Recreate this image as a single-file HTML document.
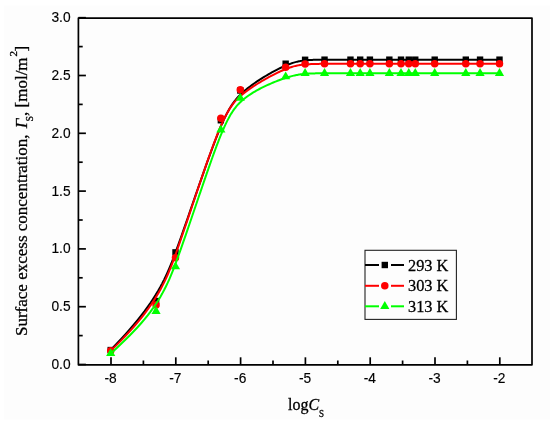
<!DOCTYPE html>
<html><head><meta charset="utf-8"><style>
html,body{margin:0;padding:0;background:#fff;}
svg{display:block;}
.tk{font-family:"Liberation Sans",Arial,sans-serif;font-size:14.5px;fill:#000;stroke:#000;stroke-width:0.15px;}
.lg{font-family:"Liberation Serif","Times New Roman",serif;font-size:17px;fill:#000;stroke:#000;stroke-width:0.3px;}
.ax{font-family:"Liberation Serif","Times New Roman",serif;font-size:17px;fill:#000;stroke:#000;stroke-width:0.3px;}
</style></head><body>
<svg width="550" height="422" viewBox="0 0 550 422">
<rect width="550" height="422" fill="#fff"/>
<rect x="4" y="5.5" width="546" height="414" fill="#fdfdfd"/>
<rect x="78.4" y="18.1" width="453.6" height="346.7" fill="none" stroke="#000" stroke-width="1.7" stroke-linejoin="round"/>
<line x1="78.4" y1="364.50" x2="85.90" y2="364.50" stroke="#000" stroke-width="1.7"/>
<text transform="translate(70.6,368.90) scale(0.95,1)" text-anchor="end" class="tk">0.0</text>
<line x1="78.4" y1="335.60" x2="82.70" y2="335.60" stroke="#000" stroke-width="1.7"/>
<line x1="78.4" y1="306.70" x2="85.90" y2="306.70" stroke="#000" stroke-width="1.7"/>
<text transform="translate(70.6,311.10) scale(0.95,1)" text-anchor="end" class="tk">0.5</text>
<line x1="78.4" y1="277.80" x2="82.70" y2="277.80" stroke="#000" stroke-width="1.7"/>
<line x1="78.4" y1="248.90" x2="85.90" y2="248.90" stroke="#000" stroke-width="1.7"/>
<text transform="translate(70.6,253.30) scale(0.95,1)" text-anchor="end" class="tk">1.0</text>
<line x1="78.4" y1="220.00" x2="82.70" y2="220.00" stroke="#000" stroke-width="1.7"/>
<line x1="78.4" y1="191.10" x2="85.90" y2="191.10" stroke="#000" stroke-width="1.7"/>
<text transform="translate(70.6,195.50) scale(0.95,1)" text-anchor="end" class="tk">1.5</text>
<line x1="78.4" y1="162.20" x2="82.70" y2="162.20" stroke="#000" stroke-width="1.7"/>
<line x1="78.4" y1="133.30" x2="85.90" y2="133.30" stroke="#000" stroke-width="1.7"/>
<text transform="translate(70.6,137.70) scale(0.95,1)" text-anchor="end" class="tk">2.0</text>
<line x1="78.4" y1="104.40" x2="82.70" y2="104.40" stroke="#000" stroke-width="1.7"/>
<line x1="78.4" y1="75.50" x2="85.90" y2="75.50" stroke="#000" stroke-width="1.7"/>
<text transform="translate(70.6,79.90) scale(0.95,1)" text-anchor="end" class="tk">2.5</text>
<line x1="78.4" y1="46.60" x2="82.70" y2="46.60" stroke="#000" stroke-width="1.7"/>
<line x1="78.4" y1="17.70" x2="85.90" y2="17.70" stroke="#000" stroke-width="1.7"/>
<text transform="translate(70.6,22.10) scale(0.95,1)" text-anchor="end" class="tk">3.0</text>
<line x1="111.00" y1="364.8" x2="111.00" y2="357.30" stroke="#000" stroke-width="1.7"/>
<text transform="translate(110.60,383.2) scale(0.95,1)" text-anchor="middle" class="tk">-8</text>
<line x1="143.40" y1="364.8" x2="143.40" y2="360.50" stroke="#000" stroke-width="1.7"/>
<line x1="175.80" y1="364.8" x2="175.80" y2="357.30" stroke="#000" stroke-width="1.7"/>
<text transform="translate(175.40,383.2) scale(0.95,1)" text-anchor="middle" class="tk">-7</text>
<line x1="208.20" y1="364.8" x2="208.20" y2="360.50" stroke="#000" stroke-width="1.7"/>
<line x1="240.60" y1="364.8" x2="240.60" y2="357.30" stroke="#000" stroke-width="1.7"/>
<text transform="translate(240.20,383.2) scale(0.95,1)" text-anchor="middle" class="tk">-6</text>
<line x1="273.00" y1="364.8" x2="273.00" y2="360.50" stroke="#000" stroke-width="1.7"/>
<line x1="305.40" y1="364.8" x2="305.40" y2="357.30" stroke="#000" stroke-width="1.7"/>
<text transform="translate(305.00,383.2) scale(0.95,1)" text-anchor="middle" class="tk">-5</text>
<line x1="337.80" y1="364.8" x2="337.80" y2="360.50" stroke="#000" stroke-width="1.7"/>
<line x1="370.20" y1="364.8" x2="370.20" y2="357.30" stroke="#000" stroke-width="1.7"/>
<text transform="translate(369.80,383.2) scale(0.95,1)" text-anchor="middle" class="tk">-4</text>
<line x1="402.60" y1="364.8" x2="402.60" y2="360.50" stroke="#000" stroke-width="1.7"/>
<line x1="435.00" y1="364.8" x2="435.00" y2="357.30" stroke="#000" stroke-width="1.7"/>
<text transform="translate(434.60,383.2) scale(0.95,1)" text-anchor="middle" class="tk">-3</text>
<line x1="467.40" y1="364.8" x2="467.40" y2="360.50" stroke="#000" stroke-width="1.7"/>
<line x1="499.80" y1="364.8" x2="499.80" y2="357.30" stroke="#000" stroke-width="1.7"/>
<text transform="translate(499.40,383.2) scale(0.95,1)" text-anchor="middle" class="tk">-2</text>
<path d="M110.70,350.05 L115.99,344.53 L120.95,339.22 L125.59,334.10 L129.93,329.18 L133.99,324.42 L137.79,319.82 L141.32,315.37 L144.62,311.05 L147.69,306.84 L150.55,302.75 L153.21,298.74 L155.70,294.81 L158.01,290.95 L160.18,287.13 L162.21,283.36 L164.12,279.61 L165.92,275.87 L167.64,272.13 L169.27,268.38 L170.84,264.60 L172.37,260.77 L173.86,256.89 L175.34,252.95 L176.81,248.92 L178.29,244.80 L179.80,240.57 L181.33,236.25 L182.88,231.84 L184.45,227.36 L186.04,222.82 L187.64,218.23 L189.24,213.60 L190.86,208.95 L192.47,204.28 L194.09,199.60 L195.71,194.93 L197.32,190.28 L198.93,185.66 L200.53,181.07 L202.11,176.55 L203.68,172.08 L205.24,167.69 L206.77,163.38 L208.28,159.17 L209.76,155.07 L211.22,151.10 L212.64,147.25 L214.03,143.54 L215.39,139.99 L216.70,136.60 L217.98,133.39 L219.21,130.35 L220.41,127.46 L221.58,124.73 L222.73,122.14 L223.84,119.70 L224.94,117.39 L226.02,115.20 L227.08,113.13 L228.14,111.18 L229.18,109.32 L230.22,107.57 L231.26,105.91 L232.30,104.33 L233.35,102.84 L234.41,101.41 L235.48,100.04 L236.56,98.73 L237.66,97.47 L238.79,96.26 L239.94,95.08 L241.12,93.92 L242.33,92.79 L243.58,91.68 L244.86,90.57 L246.19,89.47 L247.56,88.37 L248.96,87.27 L250.39,86.19 L251.84,85.11 L253.32,84.04 L254.83,82.98 L256.35,81.93 L257.88,80.90 L259.43,79.88 L260.98,78.88 L262.54,77.90 L264.10,76.94 L265.66,75.99 L267.21,75.07 L268.75,74.17 L270.28,73.30 L271.79,72.45 L273.29,71.63 L274.76,70.84 L276.20,70.08 L277.62,69.35 L279.01,68.66 L280.35,68.00 L281.66,67.37 L282.93,66.78 L284.16,66.23 L285.35,65.71 L286.51,65.22 L287.63,64.76 L288.71,64.34 L289.77,63.94 L290.80,63.57 L291.80,63.23 L292.77,62.92 L293.72,62.62 L294.64,62.36 L295.54,62.11 L296.43,61.88 L297.29,61.67 L298.15,61.48 L298.98,61.31 L299.80,61.16 L300.62,61.01 L301.42,60.88 L302.21,60.77 L303.00,60.66 L303.78,60.56 L304.56,60.47 L305.34,60.39 L306.12,60.31 L306.90,60.24 L307.68,60.18 L308.47,60.12 L309.25,60.06 L310.04,60.01 L310.83,59.97 L311.62,59.93 L312.42,59.89 L313.22,59.86 L314.02,59.83 L314.83,59.81 L315.64,59.78 L316.46,59.76 L317.29,59.75 L318.12,59.73 L318.96,59.72 L319.80,59.71 L320.66,59.71 L321.52,59.70 L322.39,59.69 L323.27,59.69 L324.16,59.69 L325.05,59.68 L325.96,59.68 L326.88,59.68 L327.81,59.68 L328.74,59.68 L329.68,59.67 L330.62,59.67 L331.57,59.67 L332.51,59.67 L333.46,59.67 L334.40,59.67 L335.34,59.67 L336.28,59.67 L337.21,59.67 L338.13,59.66 L339.05,59.66 L339.95,59.66 L340.84,59.66 L341.72,59.66 L342.58,59.66 L343.42,59.66 L344.25,59.66 L345.06,59.66 L345.85,59.66 L346.61,59.66 L347.35,59.66 L348.07,59.66 L348.76,59.66 L349.43,59.66 L350.07,59.66 L350.69,59.66 L351.29,59.66 L351.87,59.66 L352.43,59.66 L352.97,59.66 L353.49,59.66 L354.00,59.66 L354.49,59.66 L354.97,59.66 L355.43,59.66 L355.89,59.66 L356.33,59.66 L356.76,59.66 L357.18,59.66 L357.60,59.66 L358.01,59.66 L358.41,59.66 L358.81,59.66 L359.20,59.66 L359.59,59.66 L359.99,59.66 L360.37,59.66 L360.77,59.66 L361.16,59.66 L361.55,59.66 L361.94,59.66 L362.34,59.66 L362.74,59.66 L363.15,59.66 L363.56,59.66 L363.97,59.66 L364.39,59.66 L364.82,59.66 L365.26,59.66 L365.70,59.66 L366.15,59.66 L366.61,59.66 L367.08,59.66 L367.56,59.66 L368.05,59.66 L368.56,59.66 L369.07,59.66 L369.60,59.66 L370.14,59.66 L370.70,59.66 L371.27,59.66 L371.85,59.66 L372.45,59.66 L373.07,59.66 L373.69,59.66 L374.33,59.66 L374.98,59.66 L375.64,59.66 L376.31,59.66 L376.98,59.66 L377.66,59.66 L378.35,59.66 L379.03,59.66 L379.73,59.66 L380.42,59.66 L381.11,59.66 L381.80,59.66 L382.49,59.66 L383.18,59.66 L383.86,59.66 L384.54,59.66 L385.21,59.66 L385.88,59.66 L386.53,59.66 L387.18,59.66 L387.81,59.66 L388.43,59.66 L389.04,59.66 L389.64,59.66 L390.22,59.66 L390.80,59.66 L391.36,59.66 L391.91,59.66 L392.45,59.66 L392.98,59.66 L393.50,59.66 L394.01,59.66 L394.51,59.66 L395.01,59.66 L395.49,59.66 L395.96,59.66 L396.42,59.66 L396.88,59.66 L397.32,59.66 L397.76,59.66 L398.19,59.66 L398.61,59.66 L399.03,59.66 L399.44,59.66 L399.84,59.66 L400.23,59.66 L400.62,59.66 L401.00,59.66 L401.38,59.66 L401.75,59.66 L402.12,59.66 L402.48,59.66 L402.83,59.66 L403.18,59.66 L403.52,59.66 L403.86,59.66 L404.20,59.66 L404.53,59.66 L404.85,59.66 L405.18,59.66 L405.49,59.66 L405.81,59.66 L406.12,59.66 L406.43,59.66 L406.73,59.66 L407.03,59.66 L407.33,59.66 L407.62,59.66 L407.92,59.66 L408.21,59.66 L408.49,59.66 L408.78,59.66 L409.06,59.66 L409.35,59.66 L409.63,59.66 L409.91,59.66 L410.20,59.66 L410.49,59.66 L410.79,59.66 L411.09,59.66 L411.39,59.66 L411.71,59.66 L412.03,59.66 L412.36,59.66 L412.70,59.66 L413.05,59.66 L413.41,59.66 L413.78,59.66 L414.17,59.66 L414.57,59.66 L414.98,59.66 L415.42,59.66 L415.86,59.66 L416.33,59.66 L416.82,59.66 L417.32,59.66 L417.85,59.66 L418.40,59.66 L418.96,59.66 L419.55,59.66 L420.16,59.66 L420.79,59.66 L421.44,59.66 L422.11,59.66 L422.80,59.66 L423.51,59.66 L424.24,59.66 L424.99,59.66 L425.76,59.66 L426.55,59.66 L427.36,59.66 L428.19,59.66 L429.04,59.66 L429.90,59.66 L430.79,59.66 L431.70,59.66 L432.62,59.66 L433.57,59.66 L434.53,59.66 L435.52,59.66 L436.52,59.66 L437.54,59.66 L438.58,59.66 L439.63,59.66 L440.70,59.66 L441.78,59.66 L442.87,59.66 L443.98,59.66 L445.09,59.66 L446.22,59.66 L447.34,59.66 L448.48,59.66 L449.62,59.66 L450.76,59.66 L451.90,59.66 L453.04,59.66 L454.18,59.66 L455.31,59.66 L456.44,59.66 L457.57,59.66 L458.69,59.66 L459.80,59.66 L460.89,59.66 L461.98,59.66 L463.06,59.66 L464.12,59.66 L465.16,59.66 L466.20,59.66 L467.23,59.66 L468.26,59.66 L469.30,59.66 L470.35,59.66 L471.41,59.66 L472.49,59.66 L473.61,59.66 L474.75,59.66 L475.94,59.66 L477.16,59.66 L478.44,59.66 L479.77,59.66 L481.15,59.66 L482.61,59.66 L484.13,59.66 L485.73,59.66 L487.41,59.66 L489.18,59.66 L491.04,59.66 L492.99,59.66 L495.05,59.66 L497.22,59.66 L499.50,59.66" fill="none" stroke="#000" stroke-width="2.0" stroke-linejoin="round"/>
<rect x="107.50" y="346.85" width="6.4" height="6.4" fill="#000"/>
<rect x="152.86" y="297.84" width="6.4" height="6.4" fill="#000"/>
<rect x="172.30" y="249.17" width="6.4" height="6.4" fill="#000"/>
<rect x="217.66" y="117.04" width="6.4" height="6.4" fill="#000"/>
<rect x="237.10" y="87.33" width="6.4" height="6.4" fill="#000"/>
<rect x="282.46" y="60.51" width="6.4" height="6.4" fill="#000"/>
<rect x="301.90" y="56.58" width="6.4" height="6.4" fill="#000"/>
<rect x="321.34" y="56.46" width="6.4" height="6.4" fill="#000"/>
<rect x="347.26" y="56.46" width="6.4" height="6.4" fill="#000"/>
<rect x="356.98" y="56.46" width="6.4" height="6.4" fill="#000"/>
<rect x="366.70" y="56.46" width="6.4" height="6.4" fill="#000"/>
<rect x="386.14" y="56.46" width="6.4" height="6.4" fill="#000"/>
<rect x="397.80" y="56.46" width="6.4" height="6.4" fill="#000"/>
<rect x="405.58" y="56.46" width="6.4" height="6.4" fill="#000"/>
<rect x="412.06" y="56.46" width="6.4" height="6.4" fill="#000"/>
<rect x="431.50" y="56.46" width="6.4" height="6.4" fill="#000"/>
<rect x="462.60" y="56.46" width="6.4" height="6.4" fill="#000"/>
<rect x="476.86" y="56.46" width="6.4" height="6.4" fill="#000"/>
<rect x="496.30" y="56.46" width="6.4" height="6.4" fill="#000"/>
<path d="M110.70,350.86 L115.99,345.65 L120.95,340.63 L125.59,335.77 L129.93,331.07 L133.99,326.51 L137.79,322.08 L141.32,317.78 L144.62,313.57 L147.69,309.47 L150.55,305.44 L153.21,301.49 L155.70,297.59 L158.01,293.74 L160.18,289.93 L162.21,286.13 L164.12,282.35 L165.92,278.56 L167.64,274.76 L169.27,270.93 L170.84,267.07 L172.37,263.15 L173.86,259.17 L175.34,255.11 L176.81,250.97 L178.29,246.72 L179.80,242.37 L181.33,237.93 L182.88,233.39 L184.45,228.78 L186.04,224.11 L187.64,219.39 L189.24,214.63 L190.86,209.85 L192.47,205.05 L194.09,200.24 L195.71,195.45 L197.32,190.68 L198.93,185.95 L200.53,181.26 L202.11,176.63 L203.68,172.06 L205.24,167.58 L206.77,163.20 L208.28,158.92 L209.76,154.76 L211.22,150.73 L212.64,146.84 L214.03,143.10 L215.39,139.53 L216.70,136.14 L217.98,132.94 L219.21,129.91 L220.41,127.06 L221.58,124.37 L222.73,121.84 L223.84,119.46 L224.94,117.22 L226.02,115.11 L227.08,113.13 L228.14,111.27 L229.18,109.52 L230.22,107.88 L231.26,106.33 L232.30,104.86 L233.35,103.48 L234.41,102.17 L235.48,100.93 L236.56,99.74 L237.66,98.61 L238.79,97.51 L239.94,96.45 L241.12,95.42 L242.33,94.40 L243.58,93.40 L244.86,92.40 L246.19,91.40 L247.56,90.40 L248.96,89.40 L250.39,88.40 L251.84,87.41 L253.32,86.42 L254.83,85.44 L256.35,84.47 L257.88,83.51 L259.43,82.56 L260.98,81.62 L262.54,80.70 L264.10,79.80 L265.66,78.91 L267.21,78.04 L268.75,77.19 L270.28,76.37 L271.79,75.57 L273.29,74.79 L274.76,74.05 L276.20,73.33 L277.62,72.64 L279.01,71.98 L280.35,71.36 L281.66,70.77 L282.93,70.22 L284.16,69.70 L285.35,69.21 L286.51,68.76 L287.63,68.34 L288.71,67.95 L289.77,67.58 L290.80,67.24 L291.80,66.93 L292.77,66.65 L293.72,66.38 L294.64,66.14 L295.54,65.92 L296.43,65.72 L297.29,65.54 L298.15,65.37 L298.98,65.22 L299.80,65.08 L300.62,64.96 L301.42,64.85 L302.21,64.75 L303.00,64.66 L303.78,64.58 L304.56,64.51 L305.34,64.44 L306.12,64.38 L306.90,64.32 L307.68,64.26 L308.47,64.21 L309.25,64.17 L310.04,64.13 L310.83,64.09 L311.62,64.06 L312.42,64.03 L313.22,64.00 L314.02,63.97 L314.83,63.95 L315.64,63.93 L316.46,63.92 L317.29,63.90 L318.12,63.89 L318.96,63.88 L319.80,63.87 L320.66,63.87 L321.52,63.86 L322.39,63.85 L323.27,63.85 L324.16,63.85 L325.05,63.85 L325.96,63.84 L326.88,63.84 L327.81,63.84 L328.74,63.84 L329.68,63.84 L330.62,63.83 L331.57,63.83 L332.51,63.83 L333.46,63.83 L334.40,63.83 L335.34,63.83 L336.28,63.83 L337.21,63.83 L338.13,63.83 L339.05,63.83 L339.95,63.83 L340.84,63.83 L341.72,63.82 L342.58,63.82 L343.42,63.82 L344.25,63.82 L345.06,63.82 L345.85,63.82 L346.61,63.82 L347.35,63.82 L348.07,63.82 L348.76,63.82 L349.43,63.82 L350.07,63.82 L350.69,63.82 L351.29,63.82 L351.87,63.82 L352.43,63.82 L352.97,63.82 L353.49,63.82 L354.00,63.82 L354.49,63.82 L354.97,63.82 L355.43,63.82 L355.89,63.82 L356.33,63.82 L356.76,63.82 L357.18,63.82 L357.60,63.82 L358.01,63.82 L358.41,63.82 L358.81,63.82 L359.20,63.82 L359.59,63.82 L359.99,63.82 L360.37,63.82 L360.77,63.82 L361.16,63.82 L361.55,63.82 L361.94,63.82 L362.34,63.82 L362.74,63.82 L363.15,63.82 L363.56,63.82 L363.97,63.82 L364.39,63.82 L364.82,63.82 L365.26,63.82 L365.70,63.82 L366.15,63.82 L366.61,63.82 L367.08,63.82 L367.56,63.82 L368.05,63.82 L368.56,63.82 L369.07,63.82 L369.60,63.82 L370.14,63.82 L370.70,63.82 L371.27,63.82 L371.85,63.82 L372.45,63.82 L373.07,63.82 L373.69,63.82 L374.33,63.82 L374.98,63.82 L375.64,63.82 L376.31,63.82 L376.98,63.82 L377.66,63.82 L378.35,63.82 L379.03,63.82 L379.73,63.82 L380.42,63.82 L381.11,63.82 L381.80,63.82 L382.49,63.82 L383.18,63.82 L383.86,63.82 L384.54,63.82 L385.21,63.82 L385.88,63.82 L386.53,63.82 L387.18,63.82 L387.81,63.82 L388.43,63.82 L389.04,63.82 L389.64,63.82 L390.22,63.82 L390.80,63.82 L391.36,63.82 L391.91,63.82 L392.45,63.82 L392.98,63.82 L393.50,63.82 L394.01,63.82 L394.51,63.82 L395.01,63.82 L395.49,63.82 L395.96,63.82 L396.42,63.82 L396.88,63.82 L397.32,63.82 L397.76,63.82 L398.19,63.82 L398.61,63.82 L399.03,63.82 L399.44,63.82 L399.84,63.82 L400.23,63.82 L400.62,63.82 L401.00,63.82 L401.38,63.82 L401.75,63.82 L402.12,63.82 L402.48,63.82 L402.83,63.82 L403.18,63.82 L403.52,63.82 L403.86,63.82 L404.20,63.82 L404.53,63.82 L404.85,63.82 L405.18,63.82 L405.49,63.82 L405.81,63.82 L406.12,63.82 L406.43,63.82 L406.73,63.82 L407.03,63.82 L407.33,63.82 L407.62,63.82 L407.92,63.82 L408.21,63.82 L408.49,63.82 L408.78,63.82 L409.06,63.82 L409.35,63.82 L409.63,63.82 L409.91,63.82 L410.20,63.82 L410.49,63.82 L410.79,63.82 L411.09,63.82 L411.39,63.82 L411.71,63.82 L412.03,63.82 L412.36,63.82 L412.70,63.82 L413.05,63.82 L413.41,63.82 L413.78,63.82 L414.17,63.82 L414.57,63.82 L414.98,63.82 L415.42,63.82 L415.86,63.82 L416.33,63.82 L416.82,63.82 L417.32,63.82 L417.85,63.82 L418.40,63.82 L418.96,63.82 L419.55,63.82 L420.16,63.82 L420.79,63.82 L421.44,63.82 L422.11,63.82 L422.80,63.82 L423.51,63.82 L424.24,63.82 L424.99,63.82 L425.76,63.82 L426.55,63.82 L427.36,63.82 L428.19,63.82 L429.04,63.82 L429.90,63.82 L430.79,63.82 L431.70,63.82 L432.62,63.82 L433.57,63.82 L434.53,63.82 L435.52,63.82 L436.52,63.82 L437.54,63.82 L438.58,63.82 L439.63,63.82 L440.70,63.82 L441.78,63.82 L442.87,63.82 L443.98,63.82 L445.09,63.82 L446.22,63.82 L447.34,63.82 L448.48,63.82 L449.62,63.82 L450.76,63.82 L451.90,63.82 L453.04,63.82 L454.18,63.82 L455.31,63.82 L456.44,63.82 L457.57,63.82 L458.69,63.82 L459.80,63.82 L460.89,63.82 L461.98,63.82 L463.06,63.82 L464.12,63.82 L465.16,63.82 L466.20,63.82 L467.23,63.82 L468.26,63.82 L469.30,63.82 L470.35,63.82 L471.41,63.82 L472.49,63.82 L473.61,63.82 L474.75,63.82 L475.94,63.82 L477.16,63.82 L478.44,63.82 L479.77,63.82 L481.15,63.82 L482.61,63.82 L484.13,63.82 L485.73,63.82 L487.41,63.82 L489.18,63.82 L491.04,63.82 L492.99,63.82 L495.05,63.82 L497.22,63.82 L499.50,63.82" fill="none" stroke="#f00" stroke-width="2.0" stroke-linejoin="round"/>
<circle cx="110.70" cy="350.86" r="3.75" fill="#f00"/>
<circle cx="156.06" cy="305.08" r="3.75" fill="#f00"/>
<circle cx="175.50" cy="257.69" r="3.75" fill="#f00"/>
<circle cx="220.86" cy="118.27" r="3.75" fill="#f00"/>
<circle cx="240.30" cy="89.72" r="3.75" fill="#f00"/>
<circle cx="285.66" cy="67.18" r="3.75" fill="#f00"/>
<circle cx="305.10" cy="63.94" r="3.75" fill="#f00"/>
<circle cx="324.54" cy="63.82" r="3.75" fill="#f00"/>
<circle cx="350.46" cy="63.82" r="3.75" fill="#f00"/>
<circle cx="360.18" cy="63.82" r="3.75" fill="#f00"/>
<circle cx="369.90" cy="63.82" r="3.75" fill="#f00"/>
<circle cx="389.34" cy="63.82" r="3.75" fill="#f00"/>
<circle cx="401.00" cy="63.82" r="3.75" fill="#f00"/>
<circle cx="408.78" cy="63.82" r="3.75" fill="#f00"/>
<circle cx="415.26" cy="63.82" r="3.75" fill="#f00"/>
<circle cx="434.70" cy="63.82" r="3.75" fill="#f00"/>
<circle cx="465.80" cy="63.82" r="3.75" fill="#f00"/>
<circle cx="480.06" cy="63.82" r="3.75" fill="#f00"/>
<circle cx="499.50" cy="63.82" r="3.75" fill="#f00"/>
<path d="M110.70,353.52 L115.99,348.71 L120.95,344.07 L125.59,339.59 L129.93,335.25 L133.99,331.05 L137.79,326.96 L141.32,322.99 L144.62,319.11 L147.69,315.31 L150.55,311.59 L153.21,307.92 L155.70,304.30 L158.01,300.72 L160.18,297.16 L162.21,293.62 L164.12,290.07 L165.92,286.51 L167.64,282.92 L169.27,279.30 L170.84,275.63 L172.37,271.90 L173.86,268.09 L175.34,264.20 L176.81,260.21 L178.29,256.12 L179.80,251.90 L181.33,247.58 L182.88,243.16 L184.45,238.66 L186.04,234.08 L187.64,229.45 L189.24,224.76 L190.86,220.04 L192.47,215.29 L194.09,210.53 L195.71,205.77 L197.32,201.03 L198.93,196.30 L200.53,191.61 L202.11,186.97 L203.68,182.38 L205.24,177.87 L206.77,173.43 L208.28,169.10 L209.76,164.86 L211.22,160.75 L212.64,156.77 L214.03,152.93 L215.39,149.24 L216.70,145.72 L217.98,142.37 L219.21,139.20 L220.41,136.18 L221.58,133.32 L222.73,130.61 L223.84,128.05 L224.94,125.62 L226.02,123.33 L227.08,121.16 L228.14,119.11 L229.18,117.17 L230.22,115.33 L231.26,113.60 L232.30,111.96 L233.35,110.41 L234.41,108.93 L235.48,107.53 L236.56,106.20 L237.66,104.93 L238.79,103.72 L239.94,102.55 L241.12,101.43 L242.33,100.34 L243.58,99.29 L244.86,98.25 L246.19,97.24 L247.56,96.25 L248.96,95.27 L250.39,94.31 L251.84,93.38 L253.32,92.46 L254.83,91.56 L256.35,90.69 L257.88,89.83 L259.43,89.00 L260.98,88.19 L262.54,87.40 L264.10,86.63 L265.66,85.89 L267.21,85.17 L268.75,84.47 L270.28,83.79 L271.79,83.14 L273.29,82.52 L274.76,81.92 L276.20,81.34 L277.62,80.79 L279.01,80.27 L280.35,79.77 L281.66,79.30 L282.93,78.85 L284.16,78.43 L285.35,78.03 L286.51,77.66 L287.63,77.31 L288.71,76.98 L289.77,76.68 L290.80,76.39 L291.80,76.13 L292.77,75.88 L293.72,75.65 L294.64,75.44 L295.54,75.24 L296.43,75.06 L297.29,74.90 L298.15,74.74 L298.98,74.60 L299.80,74.47 L300.62,74.36 L301.42,74.25 L302.21,74.15 L303.00,74.07 L303.78,73.98 L304.56,73.91 L305.34,73.84 L306.12,73.78 L306.90,73.72 L307.68,73.67 L308.47,73.62 L309.25,73.58 L310.04,73.54 L310.83,73.50 L311.62,73.47 L312.42,73.44 L313.22,73.42 L314.02,73.39 L314.83,73.38 L315.64,73.36 L316.46,73.35 L317.29,73.34 L318.12,73.33 L318.96,73.32 L319.80,73.31 L320.66,73.31 L321.52,73.31 L322.39,73.31 L323.27,73.30 L324.16,73.30 L325.05,73.30 L325.96,73.30 L326.88,73.30 L327.81,73.30 L328.74,73.30 L329.68,73.30 L330.62,73.30 L331.57,73.30 L332.51,73.30 L333.46,73.30 L334.40,73.30 L335.34,73.30 L336.28,73.30 L337.21,73.30 L338.13,73.30 L339.05,73.30 L339.95,73.30 L340.84,73.30 L341.72,73.30 L342.58,73.30 L343.42,73.30 L344.25,73.30 L345.06,73.30 L345.85,73.30 L346.61,73.30 L347.35,73.30 L348.07,73.30 L348.76,73.30 L349.43,73.30 L350.07,73.30 L350.69,73.30 L351.29,73.30 L351.87,73.30 L352.43,73.30 L352.97,73.30 L353.49,73.30 L354.00,73.30 L354.49,73.30 L354.97,73.30 L355.43,73.30 L355.89,73.30 L356.33,73.30 L356.76,73.30 L357.18,73.30 L357.60,73.30 L358.01,73.30 L358.41,73.30 L358.81,73.30 L359.20,73.30 L359.59,73.30 L359.99,73.30 L360.37,73.30 L360.77,73.30 L361.16,73.30 L361.55,73.30 L361.94,73.30 L362.34,73.30 L362.74,73.30 L363.15,73.30 L363.56,73.30 L363.97,73.30 L364.39,73.30 L364.82,73.30 L365.26,73.30 L365.70,73.30 L366.15,73.30 L366.61,73.30 L367.08,73.30 L367.56,73.30 L368.05,73.30 L368.56,73.30 L369.07,73.30 L369.60,73.30 L370.14,73.30 L370.70,73.30 L371.27,73.30 L371.85,73.30 L372.45,73.30 L373.07,73.30 L373.69,73.30 L374.33,73.30 L374.98,73.30 L375.64,73.30 L376.31,73.30 L376.98,73.30 L377.66,73.30 L378.35,73.30 L379.03,73.30 L379.73,73.30 L380.42,73.30 L381.11,73.30 L381.80,73.30 L382.49,73.30 L383.18,73.30 L383.86,73.30 L384.54,73.30 L385.21,73.30 L385.88,73.30 L386.53,73.30 L387.18,73.30 L387.81,73.30 L388.43,73.30 L389.04,73.30 L389.64,73.30 L390.22,73.30 L390.80,73.30 L391.36,73.30 L391.91,73.30 L392.45,73.30 L392.98,73.30 L393.50,73.30 L394.01,73.30 L394.51,73.30 L395.01,73.30 L395.49,73.30 L395.96,73.30 L396.42,73.30 L396.88,73.30 L397.32,73.30 L397.76,73.30 L398.19,73.30 L398.61,73.30 L399.03,73.30 L399.44,73.30 L399.84,73.30 L400.23,73.30 L400.62,73.30 L401.00,73.30 L401.38,73.30 L401.75,73.30 L402.12,73.30 L402.48,73.30 L402.83,73.30 L403.18,73.30 L403.52,73.30 L403.86,73.30 L404.20,73.30 L404.53,73.30 L404.85,73.30 L405.18,73.30 L405.49,73.30 L405.81,73.30 L406.12,73.30 L406.43,73.30 L406.73,73.30 L407.03,73.30 L407.33,73.30 L407.62,73.30 L407.92,73.30 L408.21,73.30 L408.49,73.30 L408.78,73.30 L409.06,73.30 L409.35,73.30 L409.63,73.30 L409.91,73.30 L410.20,73.30 L410.49,73.30 L410.79,73.30 L411.09,73.30 L411.39,73.30 L411.71,73.30 L412.03,73.30 L412.36,73.30 L412.70,73.30 L413.05,73.30 L413.41,73.30 L413.78,73.30 L414.17,73.30 L414.57,73.30 L414.98,73.30 L415.42,73.30 L415.86,73.30 L416.33,73.30 L416.82,73.30 L417.32,73.30 L417.85,73.30 L418.40,73.30 L418.96,73.30 L419.55,73.30 L420.16,73.30 L420.79,73.30 L421.44,73.30 L422.11,73.30 L422.80,73.30 L423.51,73.30 L424.24,73.30 L424.99,73.30 L425.76,73.30 L426.55,73.30 L427.36,73.30 L428.19,73.30 L429.04,73.30 L429.90,73.30 L430.79,73.30 L431.70,73.30 L432.62,73.30 L433.57,73.30 L434.53,73.30 L435.52,73.30 L436.52,73.30 L437.54,73.30 L438.58,73.30 L439.63,73.30 L440.70,73.30 L441.78,73.30 L442.87,73.30 L443.98,73.30 L445.09,73.30 L446.22,73.30 L447.34,73.30 L448.48,73.30 L449.62,73.30 L450.76,73.30 L451.90,73.30 L453.04,73.30 L454.18,73.30 L455.31,73.30 L456.44,73.30 L457.57,73.30 L458.69,73.30 L459.80,73.30 L460.89,73.30 L461.98,73.30 L463.06,73.30 L464.12,73.30 L465.16,73.30 L466.20,73.30 L467.23,73.30 L468.26,73.30 L469.30,73.30 L470.35,73.30 L471.41,73.30 L472.49,73.30 L473.61,73.30 L474.75,73.30 L475.94,73.30 L477.16,73.30 L478.44,73.30 L479.77,73.30 L481.15,73.30 L482.61,73.30 L484.13,73.30 L485.73,73.30 L487.41,73.30 L489.18,73.30 L491.04,73.30 L492.99,73.30 L495.05,73.30 L497.22,73.30 L499.50,73.30" fill="none" stroke="#0f0" stroke-width="2.0" stroke-linejoin="round"/>
<polygon points="106.10,356.12 115.30,356.12 110.70,348.32" fill="#0f0"/>
<polygon points="151.46,313.92 160.66,313.92 156.06,306.12" fill="#0f0"/>
<polygon points="170.90,269.19 180.10,269.19 175.50,261.39" fill="#0f0"/>
<polygon points="216.26,132.43 225.46,132.43 220.86,124.63" fill="#0f0"/>
<polygon points="235.70,100.87 244.90,100.87 240.30,93.07" fill="#0f0"/>
<polygon points="281.06,79.26 290.26,79.26 285.66,71.46" fill="#0f0"/>
<polygon points="300.50,75.90 309.70,75.90 305.10,68.10" fill="#0f0"/>
<polygon points="319.94,75.90 329.14,75.90 324.54,68.10" fill="#0f0"/>
<polygon points="345.86,75.90 355.06,75.90 350.46,68.10" fill="#0f0"/>
<polygon points="355.58,75.90 364.78,75.90 360.18,68.10" fill="#0f0"/>
<polygon points="365.30,75.90 374.50,75.90 369.90,68.10" fill="#0f0"/>
<polygon points="384.74,75.90 393.94,75.90 389.34,68.10" fill="#0f0"/>
<polygon points="396.40,75.90 405.60,75.90 401.00,68.10" fill="#0f0"/>
<polygon points="404.18,75.90 413.38,75.90 408.78,68.10" fill="#0f0"/>
<polygon points="410.66,75.90 419.86,75.90 415.26,68.10" fill="#0f0"/>
<polygon points="430.10,75.90 439.30,75.90 434.70,68.10" fill="#0f0"/>
<polygon points="461.20,75.90 470.40,75.90 465.80,68.10" fill="#0f0"/>
<polygon points="475.46,75.90 484.66,75.90 480.06,68.10" fill="#0f0"/>
<polygon points="494.90,75.90 504.10,75.90 499.50,68.10" fill="#0f0"/>
<rect x="365" y="250.3" width="91.4" height="69.1" fill="#fdfdfd" stroke="#222" stroke-width="1.1"/>
<line x1="365" y1="265" x2="379" y2="265" stroke="#000" stroke-width="2.0"/>
<line x1="391" y1="265" x2="404" y2="265" stroke="#000" stroke-width="2.0"/>
<rect x="381.60" y="261.80" width="6.4" height="6.4" fill="#000"/>
<text transform="translate(408,270.5) scale(0.96,1)" class="lg">293 K</text>
<line x1="365" y1="285.8" x2="379" y2="285.8" stroke="#f00" stroke-width="2.0"/>
<line x1="391" y1="285.8" x2="404" y2="285.8" stroke="#f00" stroke-width="2.0"/>
<circle cx="384.80" cy="285.80" r="3.75" fill="#f00"/>
<text transform="translate(408,291.3) scale(0.96,1)" class="lg">303 K</text>
<line x1="365" y1="306.3" x2="379" y2="306.3" stroke="#0f0" stroke-width="2.0"/>
<line x1="391" y1="306.3" x2="404" y2="306.3" stroke="#0f0" stroke-width="2.0"/>
<polygon points="380.20,308.90 389.40,308.90 384.80,301.10" fill="#0f0"/>
<text transform="translate(408,311.8) scale(0.96,1)" class="lg">313 K</text>
<text transform="translate(288,409.5) scale(0.94,1)" class="ax">log<tspan font-style="italic">C</tspan><tspan font-size="9.5" dy="7">S</tspan></text>
<text transform="translate(26.5,336.0) rotate(-90)" class="ax">Surface excess concentration, <tspan font-style="italic" dx="2">Γ</tspan><tspan font-size="10" dx="-3" dy="6.5">S</tspan><tspan dy="-6.5">, [mol/m</tspan><tspan font-size="11" dx="1" dy="-9.4">2</tspan><tspan dx="-0.6" dy="9.4">]</tspan></text>
</svg>
</body></html>
